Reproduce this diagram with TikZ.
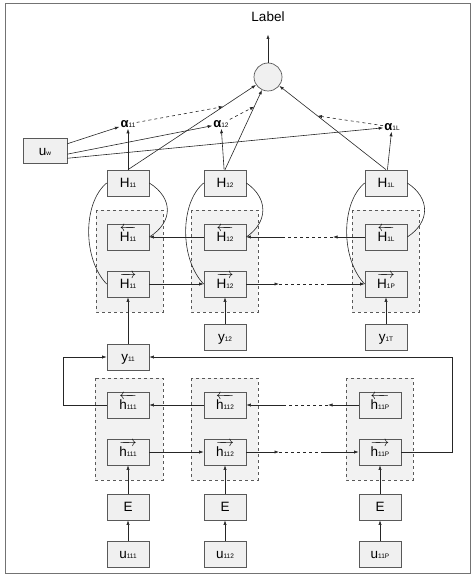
\documentclass[tikz,border=0pt]{standalone}
\usepackage{fontspec}
\setmainfont{Liberation Sans}
\usetikzlibrary{arrows.meta,calc}
\newcommand{\sbs}[1]{{\fontsize{6.5}{6.5}\selectfont #1}}
\newcommand{\fwa}[1]{$\overrightarrow{\hbox{\rule{0pt}{11.5pt}#1}}$}
\newcommand{\bwa}[1]{$\overleftarrow{\hbox{\rule{0pt}{11.5pt}#1}}$}
\begin{document}
\begin{tikzpicture}[x=1pt,y=-1pt,
  box/.style={draw=black!65, fill=black!6, line width=0.7pt, minimum width=42pt, minimum height=26pt,
    inner sep=0pt, text height=9.6pt, text depth=0pt, font=\fontsize{13.5}{14}\selectfont},
  cont/.style={draw=black!65, dashed, fill=black!5, line width=0.7pt},
  arr/.style={-{Latex[length=4.5pt,width=3.2pt]}, line width=0.6pt, draw=black!85},
  ln/.style={line width=0.6pt, draw=black!85},
  dsh/.style={dashed, line width=0.6pt, draw=black!85},
  alp/.style={inner sep=1pt, font=\fontsize{13}{13}\bfseries\selectfont}]
\useasboundingbox (0,0) rectangle (474,577);
\draw[black!55, line width=1pt] (5,4) rectangle (470,573);
% containers
\draw[cont] (96,210) rectangle (163,312);
\draw[cont] (191,210) rectangle (258,312);
\draw[cont] (352,210) rectangle (419,312);
\draw[cont] (95,378) rectangle (163,480);
\draw[cont] (191,378) rectangle (258,480);
\draw[cont] (346,378) rectangle (413,480);
% nodes
\node[font=\fontsize{13.5}{14}\selectfont] (lbl) at (268,17) {Label};
\node[circle, draw=black!65, fill=black!6, line width=0.7pt, minimum size=28pt, inner sep=0pt] (circ) at (268,77) {};
\node[alp] (a11) at (128,124) {α\sbs{\mdseries 11}};
\node[alp] (a12) at (221,124) {α\sbs{\mdseries 12}};
\node[alp] (a1L) at (392,127) {α\sbs{\mdseries 1L}};
\node[box, minimum width=44pt, minimum height=25pt] (uw) at (45,151) {u\sbs{w}};
\node[box] (H11) at (128,183) {H\sbs{11}};
\node[box] (H12) at (225,183) {H\sbs{12}};
\node[box] (H1L) at (386,183) {H\sbs{1L}};
\node[box] (B11) at (128,237) {\bwa{H\sbs{11}}};
\node[box] (B12) at (225,237) {\bwa{H\sbs{12}}};
\node[box] (B1L) at (386,237) {\bwa{H\sbs{1L}}};
\node[box] (F11) at (128,284) {\fwa{H\sbs{11}}};
\node[box] (F12) at (225,284) {\fwa{H\sbs{12}}};
\node[box] (F1P) at (386,284) {\fwa{H\sbs{1P}}};
\node[box] (y11) at (128,357) {y\sbs{11}};
\node[box] (y12) at (225,337) {y\sbs{12}};
\node[box] (y1T) at (386,337) {y\sbs{1T}};
\node[box] (b111) at (128,405) {\bwa{h\sbs{111}}};
\node[box] (b112) at (225,405) {\bwa{h\sbs{112}}};
\node[box] (b11P) at (380,405) {\bwa{h\sbs{11P}}};
\node[box] (f111) at (128,452) {\fwa{h\sbs{111}}};
\node[box] (f112) at (225,452) {\fwa{h\sbs{112}}};
\node[box] (f11P) at (380,452) {\fwa{h\sbs{11P}}};
\node[box] (E1) at (128,507) {E};
\node[box] (E2) at (225,507) {E};
\node[box] (E3) at (380,507) {E};
\node[box] (u1) at (128,554) {u\sbs{111}};
\node[box] (u2) at (225,554) {u\sbs{112}};
\node[box] (u3) at (380,554) {u\sbs{11P}};
% top connectors
\draw[arr, shorten >=9pt] (circ) -- (lbl);
\draw[arr] (uw.18) -- (a11);
\draw[arr] (uw.-8) -- (a12);
\draw[arr] (uw.-18) -- (a1L);
\draw[arr] (H11) -- (a11);
\draw[arr] (H12) -- (a12);
\draw[arr] (H1L) -- (a1L);
\draw[arr] (H11.north) -- (circ);
\draw[arr] (H12.north) -- (circ);
\draw[arr] (H1L.north) -- (circ);
\coordinate (d1) at ($(H11.north)!0.68!(circ)$);
\coordinate (d2) at ($(H12.north)!0.68!(circ)$);
\coordinate (d3) at ($(H1L.north)!0.58!(circ)$);
\draw[arr, dashed] (a11) -- (d1);
\draw[arr, dashed] (a12) -- (d2);
\draw[arr, dashed] (a1L) -- (d3);
% curves
\draw[ln] (H11.west) .. controls +(-24,20) and +(-24,-25) .. (F11.west);
\draw[ln] (H11.east) .. controls +(24,15) and +(24,-15) .. (B11.east);
\draw[ln] (H12.west) .. controls +(-24,20) and +(-24,-25) .. (F12.west);
\draw[ln] (H12.east) .. controls +(22,15) and +(22,-15) .. (B12.east);
\draw[ln] (H1L.west) .. controls +(-24,20) and +(-24,-25) .. (F1P.west);
\draw[ln] (H1L.east) .. controls +(23,15) and +(23,-15) .. (B1L.east);
% upper horizontals
\coordinate (ub1) at (333,237);
\coordinate (ub2) at (283,237);
\draw[arr] (B12) -- (B11);
\draw[arr] (B1L) -- (ub1);
\draw[dsh] (ub1) -- (ub2);
\draw[arr] (ub2) -- (B12);
\coordinate (uf1) at (279,284);
\coordinate (uf2) at (330,284);
\draw[arr] (F11) -- (F12);
\draw[arr] (F12) -- (uf1);
\draw[dsh] (uf1) -- (uf2);
\draw[arr] (uf2) -- (F1P);
\draw[arr] (y11) -- (F11);
\draw[arr] (y12) -- (F12);
\draw[arr] (y1T) -- (F1P);
% lower horizontals
\coordinate (lb1) at (328,405);
\coordinate (lb2) at (283,405);
\draw[arr] (b112) -- (b111);
\draw[arr] (b11P) -- (lb1);
\draw[dsh] (lb1) -- (lb2);
\draw[arr] (lb2) -- (b112);
\coordinate (lf1) at (279,452);
\coordinate (lf2) at (322,452);
\draw[arr] (f111) -- (f112);
\draw[arr] (f112) -- (lf1);
\draw[dsh] (lf1) -- (lf2);
\draw[arr] (lf2) -- (f11P);
% feedback
\draw[arr] (b111.west) -- ++(-43,0) |- (y11.west);
\draw[arr] (f11P.east) -- ++(51,0) |- (y11.east);
% verticals
\draw[arr] (E1) -- (f111);
\draw[arr] (E2) -- (f112);
\draw[arr] (E3) -- (f11P);
\draw[arr] (u1) -- (E1);
\draw[arr] (u2) -- (E2);
\draw[arr] (u3) -- (E3);
\end{tikzpicture}
\end{document}
